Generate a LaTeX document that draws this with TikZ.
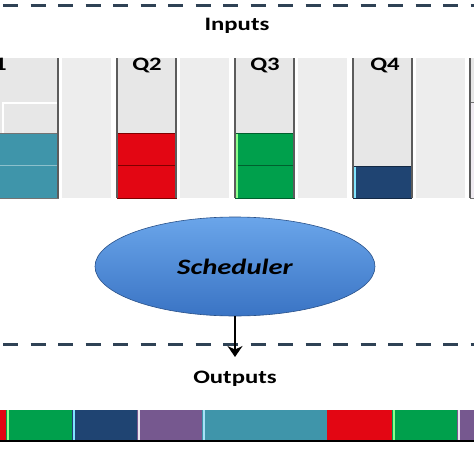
\documentclass[tikz,border=0pt]{standalone}
\usepackage{fontspec}
\setmainfont{Carlito}
\usetikzlibrary{shapes.geometric,arrows.meta}
\definecolor{tiret}{HTML}{2F4255}
\definecolor{fondq}{HTML}{E7E7E7}
\definecolor{fondp}{HTML}{EDEDED}
\definecolor{bordq}{HTML}{5C5C5C}
\definecolor{teal}{HTML}{3F95AA}
\definecolor{rouge}{HTML}{E30613}
\definecolor{vert}{HTML}{00A04C}
\definecolor{bleu}{HTML}{1F4472}
\definecolor{violet}{HTML}{76588F}
\definecolor{ellh}{HTML}{6AA5EA}
\definecolor{ellb}{HTML}{3A74C4}
\newcommand{\etire}[1]{\scalebox{1.3}[1]{#1}}
\begin{document}
\begin{tikzpicture}[x=1pt,y=-1pt]
    \tikzstyle{tirets}=[tiret,line width=3pt,dash pattern=on 15pt off 12.5pt,dash phase=-3pt]
    \tikzstyle{titre}=[font=\bfseries\fontsize{19}{19}\selectfont,anchor=base,inner sep=0pt]
    \tikzstyle{paquet}=[draw=black!55,line width=0.6pt]
    \tikzstyle{link}=[->,line width=1.8pt,>={Stealth[length=11pt,width=15pt]}]
    \useasboundingbox (0,0) rectangle (474,474);
    \fill[white] (0,0) rectangle (474,474);

    % separations
    \draw[tirets] (0,5) -- (474,5);
    \draw[tirets] (0,344) -- (474,344);
    \node[titre] (inputs) at (237,30.5) {\etire{Inputs}};

    % files d'attente
    \foreach \L in {-1,117,235,353,470} {
        \fill[fondq] (\L,58) rectangle ++(59,140);
        \fill[fondp] (\L+63,58) rectangle ++(49,140);
    }
    % Q1
    \draw[white,line width=1.2pt] (3,198) -- (3,103) -- (58,103);
    \fill[paquet,fill=teal] (-5,133) rectangle (58,165.5);
    \fill[paquet,fill=teal] (-5,165.5) rectangle (58,198);
    \draw[teal!60!white,line width=0.8pt] (-5,165.5) -- (58,165.5);
    % Q2
    \filldraw[paquet,draw=red!50!black,fill=rouge] (117,133) rectangle (176,165.5);
    \filldraw[paquet,draw=red!50!black,fill=rouge] (117,165.5) rectangle (176,198);
    % Q3
    \filldraw[paquet,draw=vert!60!black,fill=vert] (235,133) rectangle (294,165.5);
    \filldraw[paquet,draw=vert!60!black,fill=vert] (235,165.5) rectangle (294,198);
    \fill[green!45!white] (235.5,133.5) rectangle (238,197.5);
    % Q4
    \filldraw[paquet,draw=bleu!60!black,fill=bleu] (353,166) rectangle (411,198);
    \fill[blue!20!cyan!50!white] (353.5,166.5) rectangle (356,197.5);
    % Q5
    \filldraw[paquet,fill=violet] (470,102) rectangle (529,133);
    \filldraw[paquet,fill=violet] (470,133) rectangle (529,165.5);
    \filldraw[paquet,fill=violet] (470,165.5) rectangle (529,198);
    \fill[violet!12!white] (470.5,102.5) rectangle (474,197.5);
    \foreach \L in {-1,117,235,353,470} {
        \draw[bordq,line width=1.6pt] (\L,58) -- (\L,198);
        \draw[bordq,line width=1.6pt] (\L+59,58) -- (\L+59,198);
    }
    \node[titre] (Q1) at (-8,70) {\etire{Q1}};
    \node[titre] (Q2) at (147,70) {\etire{Q2}};
    \node[titre] (Q3) at (265,70) {\etire{Q3}};
    \node[titre] (Q4) at (385,70) {\etire{Q4}};

    % ordonnanceur
    \node[ellipse,minimum width=280pt,minimum height=99pt,top color=ellh,bottom color=ellb,draw=ellb!70!black,line width=0.6pt,font=\bfseries\itshape\fontsize{22}{22}\selectfont] (sched) at (235,266.5) {\etire{Scheduler}};
    \coordinate (sortie) at (235,357);
    \draw[link] (sched) -- (sortie);

    % sortie
    \node[titre] (outputs) at (235,383) {\etire{Outputs}};
    \fill[rouge] (-60,410) rectangle (6,440);
    \fill[vert] (6,410) rectangle (72,440);
    \fill[bleu] (72,410) rectangle (137,440);
    \fill[violet] (137,410) rectangle (202,440);
    \fill[teal] (202,410) rectangle (327,440);
    \fill[rouge] (327,410) rectangle (392,440);
    \fill[vert] (392,410) rectangle (457,440);
    \fill[violet] (457,410) rectangle (530,440);
    \fill[green!45!white] (7,410) rectangle (9,440);
    \fill[blue!20!cyan!50!white] (73,410) rectangle (75,440);
    \fill[violet!15!white] (138,410) rectangle (140,440);
    \fill[cyan!35!white] (203,410) rectangle (205,440);
    \fill[green!45!white] (393,410) rectangle (395,440);
    \fill[violet!15!white] (458,410) rectangle (460,440);
    \draw[black,line width=2.4pt] (0,441) -- (474,441);
\end{tikzpicture}
\end{document}
